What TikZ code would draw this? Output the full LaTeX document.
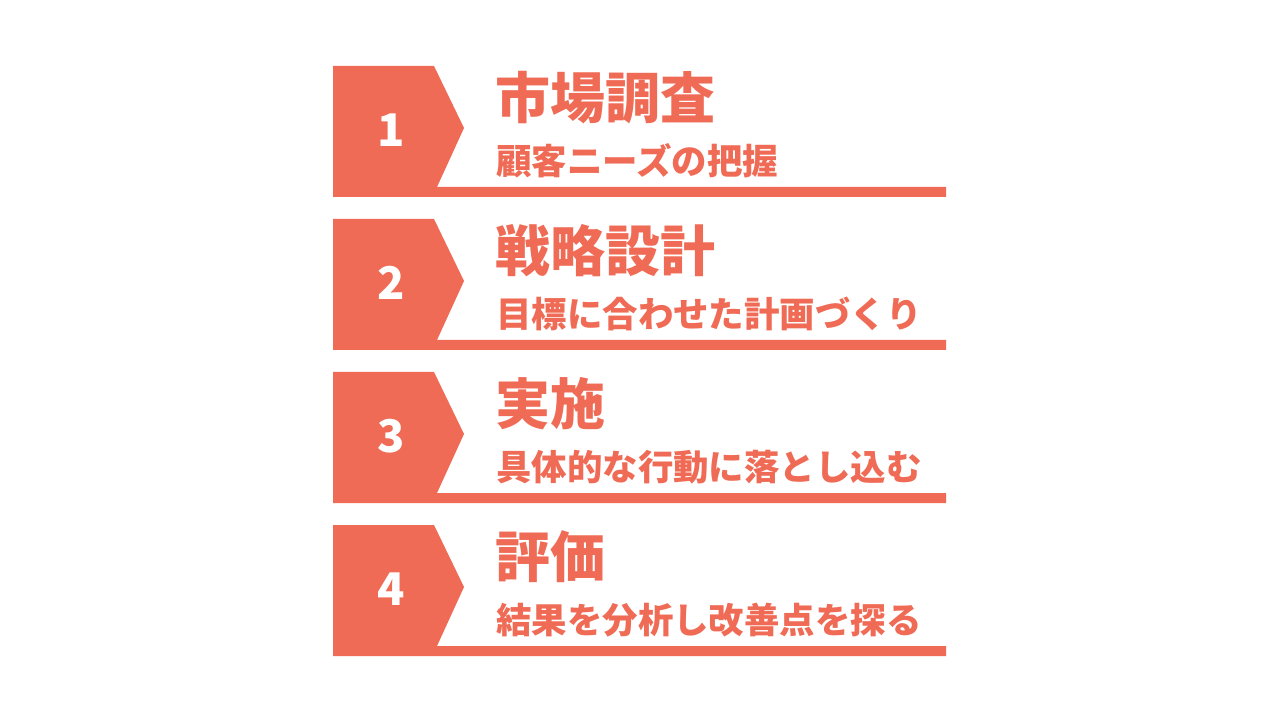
\documentclass[tikz,border=0pt]{standalone}
\usepackage{fontspec}
\setmainfont{Noto Sans CJK JP}
\usepackage{tikz}

\definecolor{salmon}{RGB}{240,107,85}

\begin{document}
\begin{tikzpicture}[x=0.025cm, y=-0.025cm]
\tikzset{
  title/.style = {anchor=west, inner sep=0, text=salmon, font=\fontsize{39.1}{41}\selectfont\bfseries},
  sub/.style = {anchor=west, inner sep=0, text=salmon, font=\fontsize{25.2}{27}\selectfont\bfseries},
  num/.style = {inner sep=0, text=white, font=\fontsize{32}{34}\selectfont\bfseries}
}
\useasboundingbox [fill=white] (0,0) rectangle (1280,720);
\foreach \i/\y/\head/\body in {1/66/市場調査/顧客ニーズの把握,
    2/219/戦略設計/目標に合わせた計画づくり,
    3/372/実施/具体的な行動に落とし込む,
    4/525/評価/結果を分析し改善点を探る} {
  \fill [salmon] (333,\y) -- (434,\y) -- (464,\y+62) -- (437,\y+121)
    -- (946,\y+121) -- (946,\y+131) -- (333,\y+131) -- cycle;
  \node [num] (num\i) at (391,\y+64) {\i};
  \node [title] (title\i) at (495,\y+32) {\head};
  \node [sub] (sub\i) at (496,\y+95) {\body};
}
\end{tikzpicture}
\end{document}
